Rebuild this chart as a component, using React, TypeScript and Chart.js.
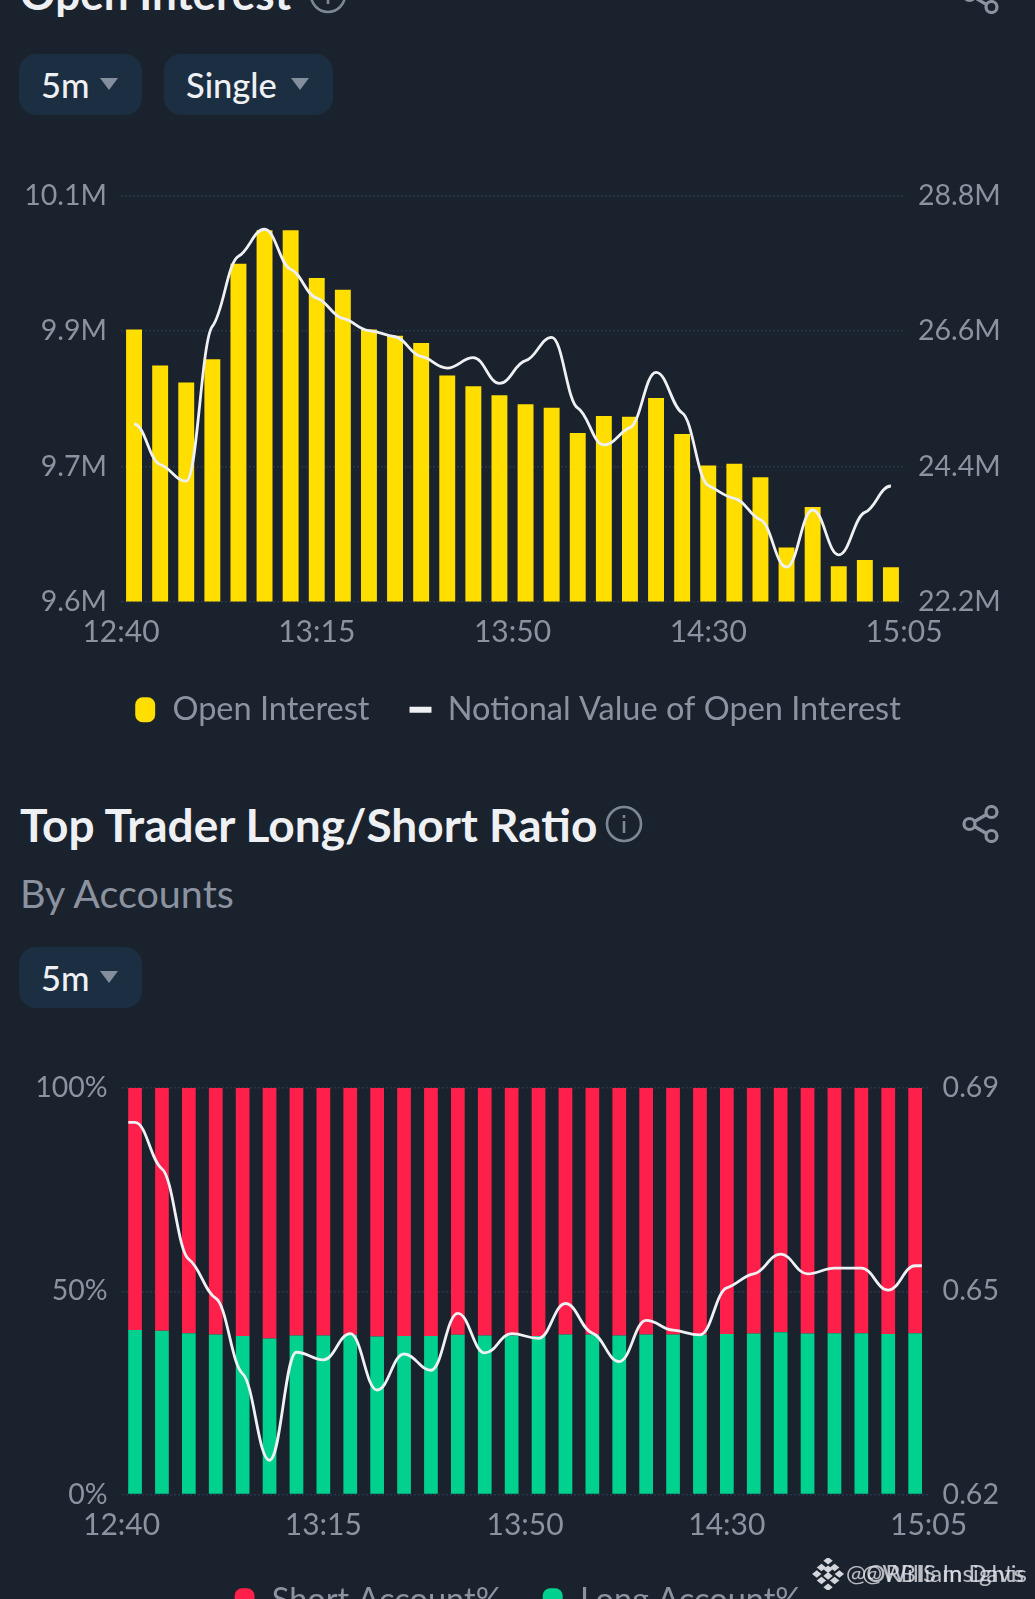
import React, { useEffect, useRef } from "react";
import { Chart, registerables } from "chart.js";

Chart.register(...registerables);

const categories = [
  "12:40","12:45","12:50","12:55","13:00","13:05","13:10","13:15","13:20","13:25",
  "13:30","13:35","13:40","13:45","13:50","13:55","14:00","14:05","14:10","14:15",
  "14:20","14:25","14:30","14:35","14:40","14:45","14:50","14:55","15:00","15:05",
];
const xTickLabels = ["12:40", "13:15", "13:50", "14:30", "15:05"];

const openInterest = [
  9.902, 9.862, 9.843, 9.869, 9.975, 10.012, 10.012, 9.959, 9.946, 9.902,
  9.895, 9.887, 9.851, 9.839, 9.829, 9.819, 9.815, 9.787, 9.806, 9.805,
  9.826, 9.786, 9.751, 9.753, 9.738, 9.66, 9.705, 9.639, 9.646, 9.638,
];
const notionalValue = [
  25.09, 24.43, 24.16, 26.68, 27.82, 28.26, 27.61, 27.14, 26.81, 26.61,
  26.51, 26.19, 26.0, 26.17, 25.75, 26.12, 26.5, 25.35, 24.75, 25.03,
  25.93, 25.27, 24.09, 23.88, 23.53, 22.76, 23.69, 22.96, 23.65, 24.08,
];
const oiLeftTicks = ["9.6M", "9.7M", "9.9M", "10.1M"];
const oiRightTicks = ["22.2M", "24.4M", "26.6M", "28.8M"];

const longAccount = [
  40.5, 40.3, 39.7, 39.4, 39.0, 38.4, 39.1, 39.1, 39.3, 38.9,
  39.0, 39.0, 39.3, 39.1, 39.1, 39.0, 39.4, 39.4, 39.1, 39.4,
  39.4, 39.3, 39.5, 39.6, 39.9, 39.6, 39.7, 39.7, 39.5, 39.7,
];
const shortAccount = [
  59.5, 59.7, 60.3, 60.6, 61.0, 61.6, 60.9, 60.9, 60.7, 61.1,
  61.0, 61.0, 60.7, 60.9, 60.9, 61.0, 60.6, 60.6, 60.9, 60.6,
  60.6, 60.7, 60.5, 60.4, 60.1, 60.4, 60.3, 60.3, 60.5, 60.3,
];
const ratioX = [
  -0.25, 0, 1, 2, 3, 4, 5, 6, 7, 8, 9, 10, 11, 12, 13, 14,
  15, 16, 17, 18, 19, 20, 21, 22, 23, 24, 25, 26, 27, 28, 29, 29.25,
];
const longShortRatio = [
  0.6841, 0.6841, 0.6761, 0.6605, 0.6538, 0.6408, 0.6259, 0.6445, 0.6432, 0.6477, 0.638,
  0.6442, 0.6414, 0.6512, 0.6444, 0.6477, 0.6469, 0.6529, 0.6478, 0.6429, 0.65,
  0.6483, 0.6475, 0.6556, 0.658, 0.6614, 0.658, 0.659, 0.659, 0.6552, 0.6594, 0.6594,
];
const ratioLeftTicks = ["0%", "50%", "100%"];
const ratioRightTicks = ["0.62", "0.65", "0.69"];

const BG = "#1a222d";
const PILL = "#1c2e42";
const GRID = "#26364a";
const MUTED = "#8c93a0";
const WHITE = "#eef0f3";
const YELLOW = "#ffde00";
const RED = "#ff1f4b";
const GREEN = "#00d18f";
const FONT = "Lato, sans-serif";

// Handles every point with a nearly flat tangent, as the reference's smoothing does.
const smoothLine = {
  id: "smoothLine",
  beforeDatasetDraw(_c: any, args: any) {
    const meta = args.meta;
    if (meta.type !== "line") return;
    const pts = meta.data;
    const slope = (i: number) => {
      if (i === 0 || i === pts.length - 1) return 0;
      const a = pts[i].y - pts[i - 1].y;
      const b = pts[i + 1].y - pts[i].y;
      if (a * b <= 0) return 0;
      return (0.28 * (pts[i + 1].y - pts[i - 1].y)) / (pts[i + 1].x - pts[i - 1].x);
    };
    pts.forEach((p: any, i: number) => {
      const m = slope(i);
      const dl = i > 0 ? p.x - pts[i - 1].x : 0;
      const dr = i < pts.length - 1 ? pts[i + 1].x - p.x : 0;
      p.cp1x = p.x - dl * 0.42;
      p.cp1y = p.y - m * dl * 0.42;
      p.cp2x = p.x + dr * 0.42;
      p.cp2y = p.y + m * dr * 0.42;
    });
    meta.dataset._pointsUpdated = true;
  },
};

const tickFont = { family: FONT, size: 28.5 };

const legendLabels = (items: any[]) => ({
  color: MUTED,
  font: { family: FONT, size: 32.5 },
  usePointStyle: true,
  boxHeight: 20.5,
  pointStyleWidth: 22,
  padding: 40,
  generateLabels: () => items,
});

const fixedWidth = (w: number) => (axis: any) => {
  axis.width = w;
};
const fixedHeight = (h: number) => (axis: any) => {
  axis.height = h;
};

const xTickAxis = (h: number) => ({
  type: "linear",
  position: "bottom",
  offset: false,
  min: 0,
  max: 4,
  afterFit: fixedHeight(h),
  grid: { display: false, drawTicks: false, offset: false },
  border: { display: false },
  ticks: {
    stepSize: 1,
    color: MUTED,
    font: { family: FONT, size: 30 },
    padding: 13,
    maxRotation: 0,
    autoSkip: false,
    callback: (v: number) => xTickLabels[v],
  },
});

const yAxis = (
  position: string,
  min: number,
  max: number,
  labels: string[],
  width: number,
  grid: boolean,
  stacked = false,
) => ({
  type: "linear",
  position,
  min,
  max,
  stacked,
  afterFit: fixedWidth(width),
  grid: { display: grid, color: GRID, lineWidth: 1.5, drawTicks: false },
  border: { display: false, dash: [2, 2] },
  ticks: {
    count: labels.length,
    color: MUTED,
    font: tickFont,
    padding: 14,
    callback: (_v: number, i: number) => labels[i],
  },
});

function ChartCanvas({ top, height, make }: { top: number; height: number; make: (c: HTMLCanvasElement) => Chart }) {
  const ref = useRef<HTMLCanvasElement>(null);
  useEffect(() => {
    const chart = make(ref.current as HTMLCanvasElement);
    return () => chart.destroy();
  }, []);
  return (
    <div style={{ position: "absolute", left: 0, top, width: 1035, height }}>
      <canvas ref={ref} />
    </div>
  );
}

const makeOpenInterest = (c: HTMLCanvasElement) =>
  new Chart(c, {
    type: "bar",
    plugins: [smoothLine],
    data: {
      labels: categories,
      datasets: [
        {
          type: "line",
          label: "Notional Value of Open Interest",
          data: notionalValue,
          yAxisID: "yr",
          xAxisID: "x",
          borderColor: WHITE,
          borderWidth: 2.8,
          pointRadius: 0,
          tension: 0.4,
          order: 0,
        },
        {
          type: "bar",
          label: "Open Interest",
          data: openInterest,
          yAxisID: "y",
          xAxisID: "x",
          backgroundColor: YELLOW,
          grouped: false,
          barPercentage: 0.61,
          categoryPercentage: 1,
          order: 1,
        },
      ],
    } as any,
    options: {
      animation: false,
      responsive: true,
      maintainAspectRatio: false,
      layout: { padding: { top: 30 } },
      scales: {
        x: { type: "category", display: false, offset: true },
        xt: xTickAxis(52),
        y: yAxis("left", 9.6, 10.05, oiLeftTicks, 121, true),
        yr: yAxis("right", 22.2, 28.8, oiRightTicks, 131, false),
      },
      plugins: {
        tooltip: { enabled: false },
        legend: {
          position: "bottom",
          labels: legendLabels([
            { text: "Open Interest", fillStyle: YELLOW, strokeStyle: YELLOW, lineWidth: 0, pointStyle: "rectRounded", fontColor: MUTED, datasetIndex: 1 },
            { text: "Notional Value of Open Interest", fillStyle: WHITE, strokeStyle: WHITE, lineWidth: 6, pointStyle: "line", fontColor: MUTED, datasetIndex: 0 },
          ]),
        },
      },
    } as any,
  });

const makeRatio = (c: HTMLCanvasElement) =>
  new Chart(c, {
    type: "bar",
    plugins: [smoothLine],
    data: {
      labels: categories,
      datasets: [
        {
          type: "line",
          label: "Long/Short Ratio",
          data: ratioX.map((x, i) => ({ x, y: longShortRatio[i] })),
          yAxisID: "yr",
          xAxisID: "xl",
          borderColor: WHITE,
          borderWidth: 2.8,
          pointRadius: 0,
          tension: 0.4,
          order: 0,
        },
        {
          type: "bar",
          label: "Long Account%",
          data: longAccount,
          yAxisID: "y",
          xAxisID: "x",
          backgroundColor: GREEN,
          grouped: false,
          barPercentage: 0.51,
          categoryPercentage: 1,
          stack: "a",
          order: 1,
        },
        {
          type: "bar",
          label: "Short Account%",
          data: shortAccount,
          yAxisID: "y",
          xAxisID: "x",
          backgroundColor: RED,
          grouped: false,
          barPercentage: 0.51,
          categoryPercentage: 1,
          stack: "a",
          order: 1,
        },
      ],
    } as any,
    options: {
      animation: false,
      responsive: true,
      maintainAspectRatio: false,
      layout: { padding: { top: 30 } },
      scales: {
        x: { type: "category", display: false, offset: true, stacked: true },
        xl: { type: "linear", display: false, offset: false, grid: { offset: false }, min: -0.5, max: 29.5 },
        xt: xTickAxis(50),
        y: yAxis("left", 0, 100, ratioLeftTicks, 121.6, true, true),
        yr: yAxis("right", 0.62, 0.69, ratioRightTicks, 106.4, false),
      },
      plugins: {
        tooltip: { enabled: false },
        legend: {
          position: "bottom",
          labels: legendLabels([
            { text: "Short Account%", fillStyle: RED, strokeStyle: RED, lineWidth: 0, pointStyle: "rectRounded", fontColor: MUTED, datasetIndex: 2 },
            { text: "Long Account%", fillStyle: GREEN, strokeStyle: GREEN, lineWidth: 0, pointStyle: "rectRounded", fontColor: MUTED, datasetIndex: 1 },
          ]),
        },
      },
    } as any,
  });

const abs = (left: number, top: number, extra: React.CSSProperties = {}): React.CSSProperties => ({
  position: "absolute",
  left,
  top,
  whiteSpace: "nowrap",
  fontFamily: FONT,
  ...extra,
});

function Pill({ left, top, width, text, textLeft, arrowLeft }: { left: number; top: number; width: number; text: string; textLeft: number; arrowLeft: number }) {
  return (
    <>
      <div style={abs(left, top, { width, height: 61, background: PILL, borderRadius: 17 })} />
      <div style={abs(textLeft, top, { height: 61, lineHeight: "61px", fontSize: 34.5, fontWeight: 500, color: WHITE })}>{text}</div>
      <svg style={abs(arrowLeft, top + 24)} width="18" height="12" viewBox="0 0 18 12">
        <path d="M0 0H18L9 12Z" fill="#848e9c" />
      </svg>
    </>
  );
}

function InfoIcon({ left, top }: { left: number; top: number }) {
  return (
    <svg style={abs(left, top)} width="38" height="38" viewBox="0 0 38 38" fill="none" stroke="#7e8795" strokeWidth="2.6">
      <circle cx="19" cy="19" r="17" />
      <path d="M19 16V28M19 10V13" />
    </svg>
  );
}

function ShareIcon({ left, top }: { left: number; top: number }) {
  return (
    <svg style={abs(left, top)} width="38" height="38" viewBox="0 0 38 38" fill="none" stroke="#8c93a0" strokeWidth="3.2">
      <circle cx="7.5" cy="19" r="5.5" />
      <circle cx="29.5" cy="7" r="5.5" />
      <circle cx="29.5" cy="31" r="5.5" />
      <path d="M12.5 16.5L24.5 9.5M12.5 21.5L24.5 28.5" />
    </svg>
  );
}

function Watermark() {
  const diamonds = [[14, 3], [7, 10], [21, 10], [14, 12], [2, 17], [14, 19], [26, 17], [7, 24], [21, 24], [14, 31]];
  const wm: React.CSSProperties = { fontSize: 24, color: "rgba(226,228,232,0.8)", letterSpacing: 0.1 };
  return (
    <>
      <svg style={abs(812, 1558)} width="34" height="32" viewBox="0 0 30 34">
        {diamonds.map(([x, y], i) => (
          <path key={i} d={`M${x} ${y - 4}L${x + 5} ${y}L${x} ${y + 4}L${x - 5} ${y}Z`} fill="#d3d6db" />
        ))}
      </svg>
      <div style={abs(846, 1558, wm)}>@ORBIS Insights</div>
      <div style={abs(862, 1558, wm)}>@William Davis</div>
    </>
  );
}

export default function App() {
  useEffect(() => {
    document.body.style.margin = "0";
    document.body.style.background = BG;
  }, []);
  return (
    <div style={{ position: "absolute", left: 0, top: 0, width: 1035, height: 1599, overflow: "hidden", background: BG }}>
      <div style={abs(20, -33, { fontSize: 44, fontWeight: 700, lineHeight: "52px", color: WHITE })}>Open Interest</div>
      <InfoIcon left={309} top={-24} />
      <ShareIcon left={962} top={-24} />
      <Pill left={19} top={54} width={123} text="5m" textLeft={41} arrowLeft={100} />
      <Pill left={164} top={54} width={169} text="Single" textLeft={186} arrowLeft={291} />

      <ChartCanvas top={165} height={571} make={makeOpenInterest} />

      <div style={abs(20, 799, { fontSize: 46, fontWeight: 700, lineHeight: "52px", color: WHITE })}>Top Trader Long/Short Ratio</div>
      <InfoIcon left={605} top={805} />
      <ShareIcon left={962} top={805} />
      <div style={abs(20, 870, { fontSize: 39.5, lineHeight: "46px", color: MUTED })}>By Accounts</div>
      <Pill left={19} top={947} width={123} text="5m" textLeft={41} arrowLeft={100} />

      <ChartCanvas top={1057} height={570} make={makeRatio} />
      <Watermark />
    </div>
  );
}
